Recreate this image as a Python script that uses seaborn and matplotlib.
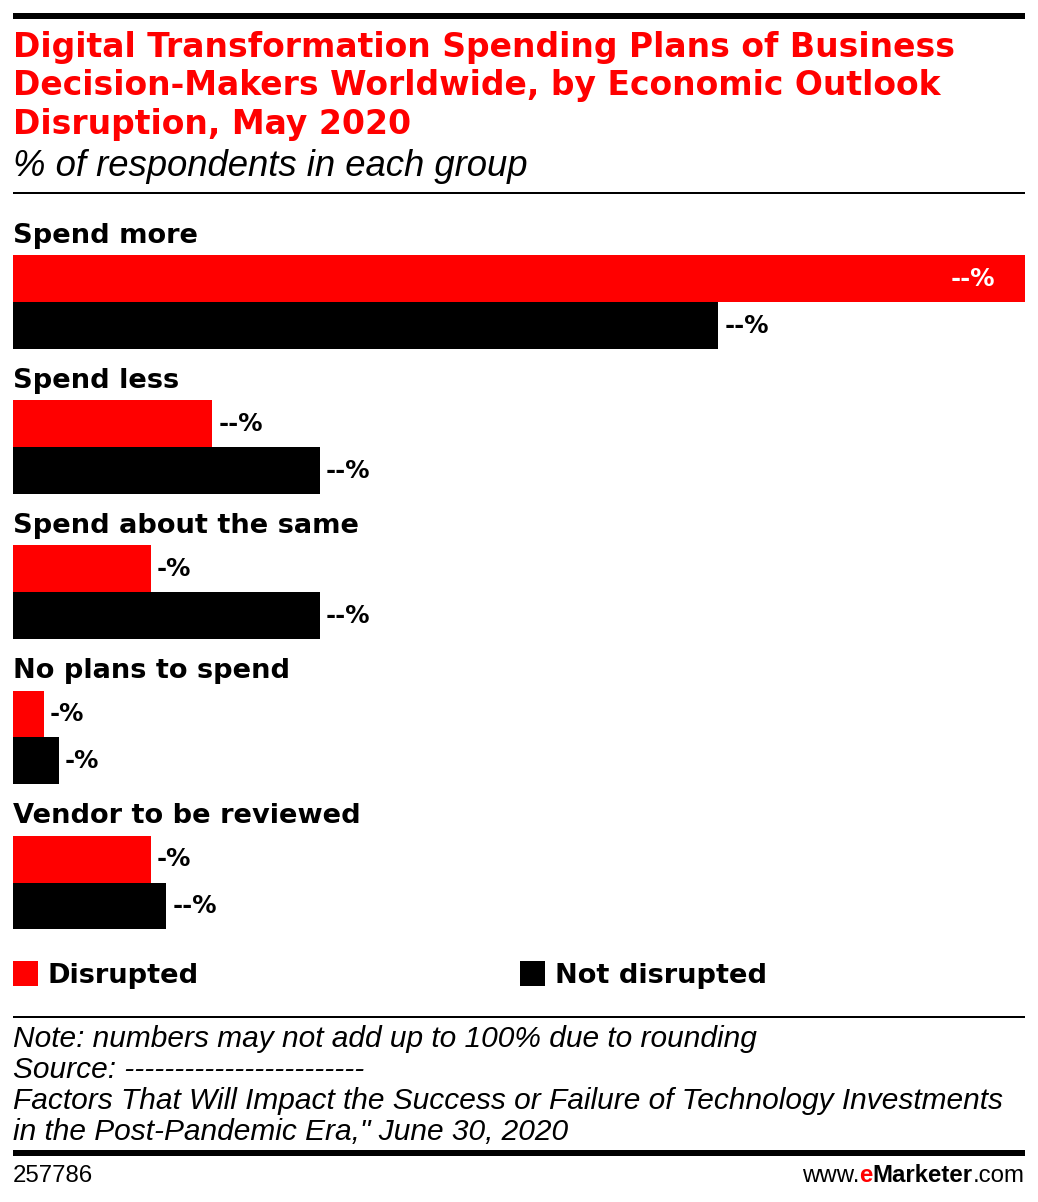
import matplotlib
matplotlib.use('Agg')
import matplotlib.pyplot as plt
from matplotlib.lines import Line2D
from matplotlib.patches import Rectangle
import seaborn as sns
import pandas as pd

# ---- data ----
categories = ["Spend more", "Spend less", "Spend about the same",
              "No plans to spend", "Vendor to be reviewed"]
disrupted = [66, 13, 9, 2, 9]
not_disrupted = [46, 20, 20, 3, 10]
series = ["Disrupted", "Not disrupted"]
colors = ["#ff0000", "#000000"]

title_lines = ["Digital Transformation Spending Plans of Business",
               "Decision-Makers Worldwide, by Economic Outlook",
               "Disruption, May 2020"]
subtitle = "% of respondents in each group"
note_lines = ["Note: numbers may not add up to 100% due to rounding",
              "Source: ------------------------",
              "Factors That Will Impact the Success or Failure of Technology Investments",
              "in the Post-Pandemic Era,\" June 30, 2020"]
chart_id = "257786"

df = pd.DataFrame({
    "category": categories * 2,
    "series": [series[0]] * len(categories) + [series[1]] * len(categories),
    "value": disrupted + not_disrupted,
})

sns.set_theme(style="white")
plt.rcParams['font.family'] = ['DejaVu Sans']
plt.rcParams['text.color'] = 'black'

W, H = 1038, 1202
fig = plt.figure(figsize=(W / 100, H / 100), dpi=100)
renderer = fig.canvas.get_renderer()


def fx(x):
    return x / W


def fy(y):
    return 1 - y / H


def measure(s, size, **kw):
    t = fig.text(0, 0, s, fontsize=size, **kw)
    w = t.get_window_extent(renderer).width
    t.remove()
    return w


def fit_size(s, width, **kw):
    return 20 * width / measure(s, 20, **kw)


def hline(y, lw_px):
    fig.add_artist(Line2D([fx(13), fx(1025)], [fy(y), fy(y)], color="black",
                          lw=lw_px * 0.72, solid_capstyle="butt"))


# ---- header ----
hline(16, 6)
tsize = fit_size(title_lines[0], 942, weight="bold")
for i, line in enumerate(title_lines):
    fig.text(fx(13), fy(57 + 38.5 * i), line, fontsize=tsize, weight="bold",
             color="#ff0000", va="baseline", ha="left")
ssize = fit_size(subtitle, 514, style="italic", family="Liberation Sans")
fig.text(fx(13), fy(176), subtitle, fontsize=ssize, style="italic",
         family="Liberation Sans", va="baseline", ha="left", color="black")
hline(193, 2)

# ---- bars ----
ax = fig.add_axes([fx(13), fy(935), 1012 / W, 720 / H])
sns.barplot(data=df, y="category", x="value", hue="series", order=categories,
            hue_order=series, palette=colors, saturation=1, width=0.648,
            orient="h", ax=ax, legend=False, linewidth=0, edgecolor="none")
ax.set_xlim(0, max(disrupted))
ax.set_ylim(4.362, -0.603)
ax.axis("off")

csize = fit_size("Spend about the same", 347, weight="bold")
for i, cat in enumerate(categories):
    ax.text(0, i - 0.41, cat, transform=ax.get_yaxis_transform(),
            fontsize=csize, weight="bold", va="baseline", ha="left",
            color="black")

vmax = max(disrupted + not_disrupted)
for cont in ax.containers:
    for bar in cont:
        v = bar.get_width()
        yc = bar.get_y() + bar.get_height() / 2
        lab = "-" * len(str(int(round(v)))) + "%"
        if v >= vmax:
            ax.annotate(lab, (v, yc), xytext=(-21.6, 0), textcoords="offset points",
                        ha="right", va="center", fontsize=17.5, weight="bold",
                        color="white")
        else:
            ax.annotate(lab, (v, yc), xytext=(4.3, 0), textcoords="offset points",
                        ha="left", va="center", fontsize=17.5, weight="bold",
                        color="black")

# ---- legend ----
lsize = fit_size("Not disrupted", 212, weight="bold")
for (x0, name, col) in [(13, series[0], colors[0]), (520, series[1], colors[1])]:
    fig.add_artist(Rectangle((fx(x0), fy(986)), 25 / W, 25 / H,
                             transform=fig.transFigure, color=col, lw=0))
    fig.text(fx(x0 + 35), fy(983), name, fontsize=lsize, weight="bold",
             va="baseline", ha="left", color="black")
hline(1017, 2)

# ---- notes ----
nsize = fit_size(note_lines[2], 987, style="italic", family="Liberation Sans")
for i, line in enumerate(note_lines):
    fig.text(fx(13), fy(1047 + 31 * i), line, fontsize=nsize, style="italic",
             family="Liberation Sans", va="baseline", ha="left", color="black")
hline(1153, 6)

# ---- footer ----
fsize = fit_size(chart_id, 80, family="Liberation Sans")
fig.text(fx(13), fy(1182), chart_id, fontsize=fsize, family="Liberation Sans",
         va="baseline", ha="left", color="black")
parts = [("www.", "normal", "black"), ("e", "bold", "#ff0000"),
         ("Marketer", "bold", "black"), (".com", "normal", "black")]
widths = [measure(p, fsize, weight=w, family="Liberation Sans") for p, w, c in parts]
x = 1025 - sum(widths)
for (p, w, c), wd in zip(parts, widths):
    fig.text(fx(x), fy(1182), p, fontsize=fsize, weight=w, color=c,
             family="Liberation Sans", va="baseline", ha="left")
    x += wd

fig.savefig("out.png", dpi=100)
